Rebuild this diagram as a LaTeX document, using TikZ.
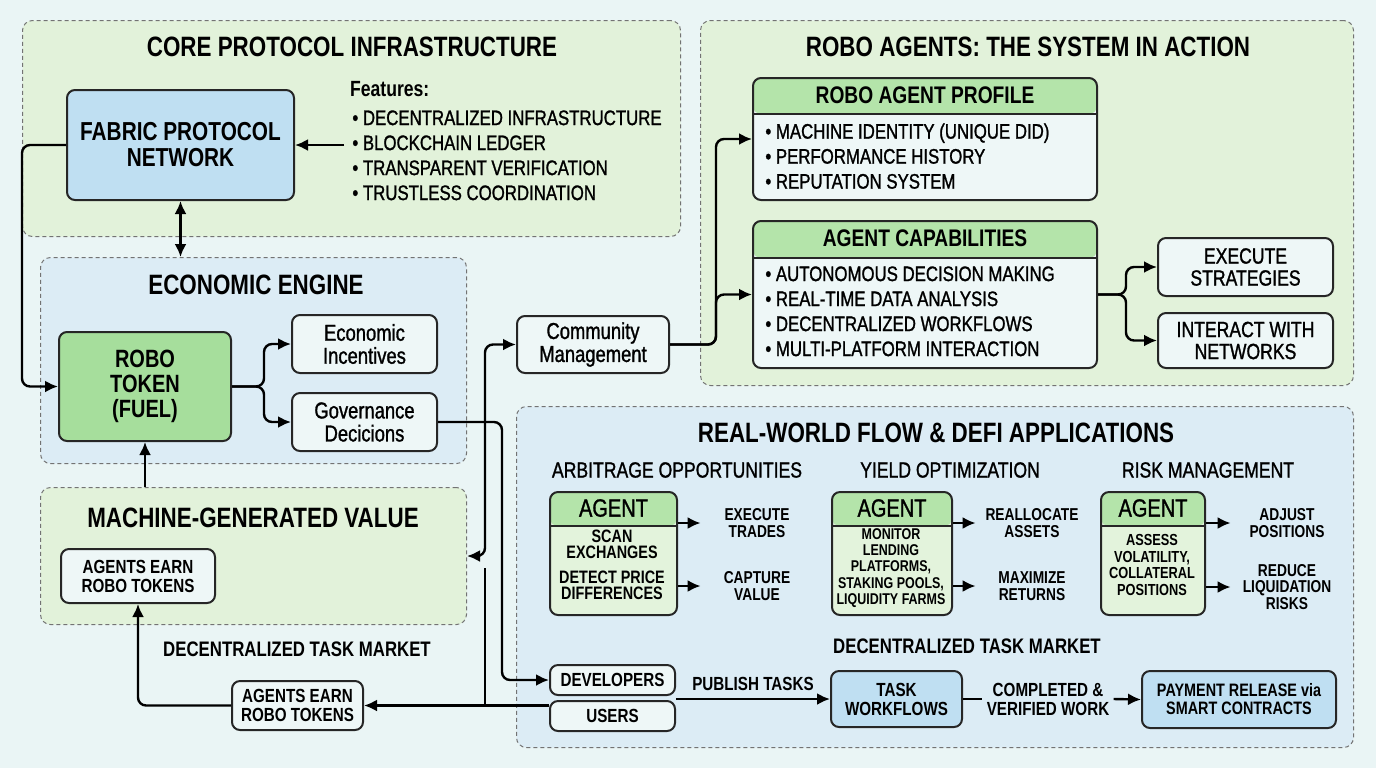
\documentclass[tikz,border=0pt]{standalone}
\usepackage{fontspec}
\setmainfont{Liberation Sans}[FakeStretch=0.8]
\newfontfamily\mediumfont{Liberation Sans}[FakeStretch=0.8, FakeBold=1.2]
\usetikzlibrary{arrows.meta}

\definecolor{bgcol}{HTML}{EAF5F5}
\definecolor{greenpanel}{HTML}{E2F2DA}
\definecolor{bluepanel}{HTML}{DCECF5}
\definecolor{boxblue}{HTML}{BFDFF2}
\definecolor{boxwhite}{HTML}{EEF7F7}
\definecolor{tokgreen}{HTML}{A6DE9C}
\definecolor{hdrgreen}{HTML}{B4E4AA}
\definecolor{agentbody}{HTML}{E3F3DC}

\begin{document}
\begin{tikzpicture}[x=0.5pt, y=-0.5pt,
    >={Latex[length=6.5pt,width=6pt]},
    panel/.style={draw=black!55, dash pattern=on 2pt off 1.5pt, line width=0.5pt,
        rounded corners=5pt, anchor=north west, inner sep=0pt},
    panel title/.style={font=\fontsize{14}{16}\selectfont\bfseries},
    box/.style={draw=black!85, line width=1pt, rounded corners=4pt, anchor=north west,
        inner sep=0pt, fill=boxwhite, align=center},
    head box/.style={box, path picture={
        \fill[hdrgreen] (path picture bounding box.north west) rectangle ([yshift=-#1]path picture bounding box.north east);
        \draw[black!85, line width=0.8pt] ([yshift=-#1]path picture bounding box.north west) -- ([yshift=-#1]path picture bounding box.north east);}},
    bold text/.style={font=\fontsize{#1}{#1}\selectfont\bfseries},
    plain text/.style={font=\fontsize{#1}{#1}\selectfont},
    medium text/.style={font=\fontsize{#1}{#1}\selectfont\mediumfont},
    bullet list/.style={font=\fontsize{10.5}{12.5}\selectfont\mediumfont, align=left, anchor=north west, inner sep=0pt},
    small text/.style={font=\fontsize{#1}{8.2}\selectfont\bfseries, align=center},
    outcome/.style={small text=8.6, minimum width=56pt, inner sep=0pt},
    flow/.style={line width=1.2pt, rounded corners=4pt}
]
    \fill[bgcol] (0,0) rectangle (1376,768);
    \useasboundingbox (0,0) rectangle (1376,768);

    % 區塊
    \node[panel, fill=greenpanel, minimum width=329pt, minimum height=108pt] (core) at (22,20) {};
    \node[panel, fill=greenpanel, minimum width=326.5pt, minimum height=182.5pt] (agents) at (700,20) {};
    \node[panel, fill=bluepanel, minimum width=213pt, minimum height=103pt] (econ) at (40,257) {};
    \node[panel, fill=greenpanel, minimum width=213pt, minimum height=68.5pt] (mgv) at (40,487) {};
    \node[panel, fill=bluepanel, minimum width=418.5pt, minimum height=170.5pt] (real) at (516,406) {};
    \node[panel title] (core-t) at (352,47) {CORE PROTOCOL INFRASTRUCTURE};
    \node[panel title] (agents-t) at (1028,47) {ROBO AGENTS: THE SYSTEM IN ACTION};
    \node[panel title] (econ-t) at (256,285) {ECONOMIC ENGINE};
    \node[panel title] (mgv-t) at (253,518) {MACHINE-GENERATED VALUE};
    \node[panel title] (real-t) at (936,433) {REAL-WORLD FLOW \& DEFI APPLICATIONS};

    % 核心協議
    \node[box, fill=boxblue, bold text=13, minimum width=113.5pt, minimum height=55pt] (fpn) at (66,89) {FABRIC PROTOCOL\\NETWORK};
    \node[bold text=11, anchor=west] (feat-t) at (343,89) {Features:};
    \node[bullet list] (feat) at (352,110) {• DECENTRALIZED INFRASTRUCTURE\\• BLOCKCHAIN LEDGER\\• TRANSPARENT VERIFICATION\\• TRUSTLESS COORDINATION};

    % 經濟引擎與機器價值
    \node[box, fill=tokgreen, bold text=12.5, minimum width=86pt, minimum height=54.5pt] (tok) at (58,331) {ROBO\\TOKEN\\(FUEL)};
    \node[box, medium text=11.5, minimum width=72.5pt, minimum height=29pt] (incent) at (291,314) {Economic\\Incentives};
    \node[box, medium text=11.5, minimum width=72.5pt, minimum height=29pt] (gov) at (291,392) {Governance\\Decicions};
    \node[box, bold text=9.5, minimum width=77pt, minimum height=27pt] (earn1) at (60,548) {AGENTS EARN\\ROBO TOKENS};
    \node[bold text=10.5] (mkt-l) at (297,649) {DECENTRALIZED TASK MARKET};
    \node[box, bold text=9.5, minimum width=65.5pt, minimum height=24.5pt] (earn2) at (231,680) {AGENTS EARN\\ROBO TOKENS};
    \node[box, medium text=11.5, minimum width=76pt, minimum height=28.5pt] (comm) at (516,315) {Community\\Management};

    % 代理人
    \node[head box=18pt, minimum width=172pt, minimum height=61pt] (prof) at (752,77) {};
    \node[bold text=12] (prof-h) at ([yshift=-9pt]prof.north) {ROBO AGENT PROFILE};
    \node[bullet list] (prof-l) at (765,123) {• MACHINE IDENTITY (UNIQUE DID)\\• PERFORMANCE HISTORY\\• REPUTATION SYSTEM};
    \node[head box=18.5pt, minimum width=172pt, minimum height=73.5pt] (cap) at (752,220) {};
    \node[bold text=12] (cap-h) at ([yshift=-9.25pt]cap.north) {AGENT CAPABILITIES};
    \node[bullet list] (cap-l) at (765,266) {• AUTONOMOUS DECISION MAKING\\• REAL-TIME DATA ANALYSIS\\• DECENTRALIZED WORKFLOWS\\• MULTI-PLATFORM INTERACTION};
    \node[box, font=\fontsize{11}{11}\selectfont\mediumfont, minimum width=87.5pt, minimum height=29pt] (exec) at (1157,237) {EXECUTE\\STRATEGIES};
    \node[box, font=\fontsize{11}{11}\selectfont\mediumfont, minimum width=87.5pt, minimum height=27.5pt] (inter) at (1157,312) {INTERACT WITH\\NETWORKS};

    % DeFi 應用
    \node[medium text=11] (arb-t) at (677,470) {ARBITRAGE OPPORTUNITIES};
    \node[medium text=11] (yld-t) at (950,470) {YIELD OPTIMIZATION};
    \node[medium text=11] (risk-t) at (1208,470) {RISK MANAGEMENT};
    \node[head box=17pt, fill=agentbody, minimum width=63.5pt, minimum height=61.5pt] (arb) at (549,491) {};
    \node[head box=17pt, fill=agentbody, minimum width=60pt, minimum height=61.5pt] (yld) at (831,491) {};
    \node[head box=17pt, fill=agentbody, minimum width=52pt, minimum height=61.5pt] (risk) at (1100,491) {};
    \foreach \a in {arb,yld,risk}
        \node[medium text=12.5] (\a-h) at ([yshift=-8.5pt]\a.north) {AGENT};
    \node[small text=9] (arb-1) at (612,544) {SCAN\\EXCHANGES};
    \node[small text=9] (arb-2) at (612,585) {DETECT PRICE\\DIFFERENCES};
    \node[small text=7.8] (yld-1) at (891,568) {MONITOR\\LENDING\\PLATFORMS,\\STAKING POOLS,\\LIQUIDITY FARMS};
    \node[small text=8] (risk-1) at (1152,565) {ASSESS\\VOLATILITY,\\COLLATERAL\\POSITIONS};
    \node[outcome] (arb-o1) at (757,523) {EXECUTE\\TRADES};
    \node[outcome] (arb-o2) at (757,586) {CAPTURE\\VALUE};
    \node[outcome] (yld-o1) at (1032,523) {REALLOCATE\\ASSETS};
    \node[outcome] (yld-o2) at (1032,586) {MAXIMIZE\\RETURNS};
    \node[outcome] (risk-o1) at (1287,523) {ADJUST\\POSITIONS};
    \node[outcome] (risk-o2) at (1287,587) {REDUCE\\LIQUIDATION\\RISKS};

    % 任務市場
    \node[bold text=10.5] (mkt-r) at (967,646) {DECENTRALIZED TASK MARKET};
    \node[box, bold text=9.5, minimum width=62.5pt, minimum height=15pt] (dev) at (549,664) {DEVELOPERS};
    \node[box, bold text=9.5, minimum width=62.5pt, minimum height=15pt] (users) at (549,700) {USERS};
    \node[box, fill=boxblue, bold text=9.5, minimum width=65.5pt, minimum height=28pt] (task) at (830,670) {TASK\\WORKFLOWS};
    \node[bold text=9.5, align=center, inner sep=2pt] (done) at (1048,699) {COMPLETED \&\\VERIFIED WORK};
    \node[box, fill=boxblue, bold text=9, minimum width=97pt, minimum height=28.5pt] (pay) at (1141,670) {PAYMENT RELEASE via\\SMART CONTRACTS};

    % 連線
    \draw[flow, ->] ([xshift=-4pt]feat.west |- fpn.east) -- (fpn.east);
    \draw[flow, <->] (fpn.south) -- (fpn.south |- econ.north);
    \draw[flow, ->] (fpn.west) -- ++(-44,0) |- (tok.west);
    \draw[flow, ->] (tok.east) -- ++(32,0) |- (incent.west);
    \draw[flow, ->] (tok.east) -- ++(32,0) |- (gov.west);
    \draw[flow, ->] (tok.south |- mgv.north) -- (tok.south);
    \draw[flow, ->] (gov.east) -- ++(64,0) |- (dev.west);
    \draw[flow, <->] (mgv.east) -- ++(18,0) |- (comm.west);
    \draw[flow, ->] (users.west |- earn2.east) -- (earn2.east);
    \draw[flow] ([xshift=9pt]mgv.east |- earn2.east) -- ([xshift=9pt,yshift=-6pt]mgv.east);
    \draw[flow, ->] (earn2.west) -| (earn1.south);
    \draw[flow, ->] (comm.east) -- ++(46,0) |- (prof.west);
    \draw[flow, ->] (comm.east) -- ++(46,0) |- (cap.west);
    \draw[flow, ->] (cap.east) -- ++(28,0) |- (exec.west);
    \draw[flow, ->] (cap.east) -- ++(28,0) |- (inter.west);
    \foreach \a in {arb,yld,risk}
        \foreach \o in {o1,o2}
            \draw[flow, ->] (\a-\o.west -| \a.east) -- (\a-\o.west);
    \draw[flow, ->] (users.east |- task.west) -- node[above, bold text=9.5] (pub) {PUBLISH TASKS} (task.west);
    \draw[flow] (task.east) -- (done.west);
    \draw[flow, ->] (done.east) -- (pay.west);
\end{tikzpicture}
\end{document}
